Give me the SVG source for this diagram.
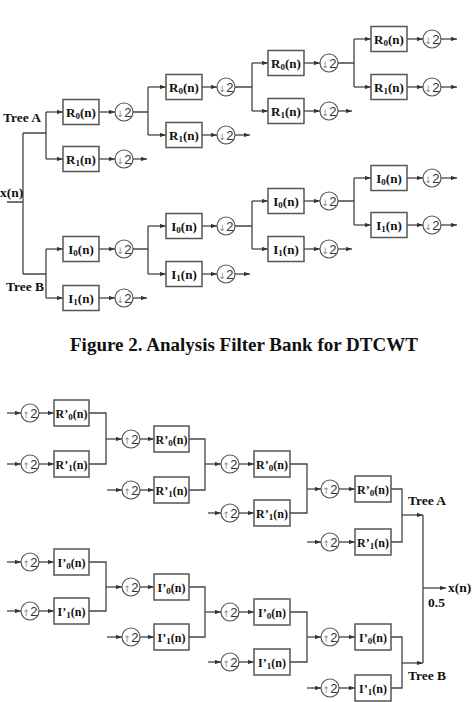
<svg xmlns="http://www.w3.org/2000/svg" width="474" height="702" viewBox="0 0 474 702">
<defs>
<marker id="ah" viewBox="0 0 10 8" refX="10" refY="4" markerWidth="6" markerHeight="4.8" markerUnits="userSpaceOnUse" orient="auto"><path d="M0,0.5 L10,4 L0,7.5 z" fill="#333"/></marker>
<style>
.box{fill:#fff;stroke:#555;stroke-width:1.5}
.op{fill:#fff;stroke:#555;stroke-width:1.2}
.ln{fill:none;stroke:#444;stroke-width:1.3}
.ar{fill:none;stroke:#444;stroke-width:1.3;marker-end:url(#ah)}
.lbl{font-family:"Liberation Serif","Times New Roman",serif;font-weight:bold;font-size:13px;fill:#111;text-anchor:middle}
.lbs{font-size:12px}
.sub{font-size:9px}
.opt{font-family:"Liberation Sans",Arial,sans-serif;font-size:13px;fill:#333;text-anchor:middle}
.arr{font-family:"DejaVu Sans",sans-serif;fill:#888;font-size:9px}
.tx{font-family:"Liberation Serif","Times New Roman",serif;font-weight:bold;font-size:13.5px;fill:#111}
</style>
</defs>
<rect width="474" height="702" fill="#fff"/>

<g id="connectors">
<path class="ln" d="M7,202 H23 M23,133 V274 M23,133 H46 M23,274 H46"/>
<path class="ln" d="M46,112 V159 M133,112 H148 M148,87 V135 M235,87 H252 M252,63 V111 M338,63 H354 M354,39 V87"/>
<path class="ar" d="M46,112 H63"/><path class="ar" d="M46,159 H63"/>
<path class="ar" d="M99,112 H115"/><path class="ar" d="M99,159 H115"/>
<path class="ar" d="M133,159 H147"/>
<path class="ar" d="M148,87 H166"/><path class="ar" d="M148,135 H166"/>
<path class="ar" d="M202,87 H217"/><path class="ar" d="M202,135 H217"/>
<path class="ar" d="M235,135 H250"/>
<path class="ar" d="M252,63 H268"/><path class="ar" d="M252,111 H268"/>
<path class="ar" d="M304,63 H320"/><path class="ar" d="M304,111 H320"/>
<path class="ar" d="M338,111 H352"/>
<path class="ar" d="M354,39 H371"/><path class="ar" d="M354,87 H371"/>
<path class="ar" d="M407,39 H423"/><path class="ar" d="M407,87 H423"/>
<path class="ar" d="M441,39 H457"/><path class="ar" d="M441,87 H457"/>
<path class="ln" d="M46,249 V298 M133,249 H148 M148,226 V274 M235,226 H252 M252,201 V249 M338,201 H354 M354,178 V225"/>
<path class="ar" d="M46,249 H63"/><path class="ar" d="M46,298 H63"/>
<path class="ar" d="M99,249 H115"/><path class="ar" d="M99,298 H115"/>
<path class="ar" d="M133,298 H147"/>
<path class="ar" d="M148,226 H166"/><path class="ar" d="M148,274 H166"/>
<path class="ar" d="M202,226 H217"/><path class="ar" d="M202,274 H217"/>
<path class="ar" d="M235,274 H250"/>
<path class="ar" d="M252,201 H268"/><path class="ar" d="M252,249 H268"/>
<path class="ar" d="M304,201 H320"/><path class="ar" d="M304,249 H320"/>
<path class="ar" d="M338,249 H352"/>
<path class="ar" d="M354,178 H371"/><path class="ar" d="M354,225 H371"/>
<path class="ar" d="M407,178 H423"/><path class="ar" d="M407,225 H423"/>
<path class="ar" d="M441,178 H457"/><path class="ar" d="M441,225 H457"/>
<path class="ar" d="M7,413 H21"/><path class="ar" d="M7,464 H21"/>
<path class="ar" d="M39,413 H54"/><path class="ar" d="M39,464 H54"/>
<path class="ln" d="M89,413 H106 V464 H89"/><path class="ar" d="M106,439 H122"/>
<path class="ar" d="M107,490 H122"/>
<path class="ar" d="M140,439 H154"/><path class="ar" d="M140,490 H154"/>
<path class="ln" d="M189,439 H205 V490 H189"/><path class="ar" d="M205,464 H221"/>
<path class="ar" d="M208,513 H221"/>
<path class="ar" d="M239,464 H254"/><path class="ar" d="M239,513 H254"/>
<path class="ln" d="M290,464 H307 V513 H290"/><path class="ar" d="M307,489 H321"/>
<path class="ar" d="M307,542 H321"/>
<path class="ar" d="M339,489 H355"/><path class="ar" d="M339,542 H355"/>
<path class="ln" d="M391,489 H402 V542 H391"/><path class="ar" d="M402,515 H423"/>
<path class="ar" d="M7,562 H21"/><path class="ar" d="M7,611 H21"/>
<path class="ar" d="M39,562 H54"/><path class="ar" d="M39,611 H54"/>
<path class="ln" d="M89,562 H106 V611 H89"/><path class="ar" d="M106,587 H122"/>
<path class="ar" d="M107,637 H122"/>
<path class="ar" d="M140,587 H154"/><path class="ar" d="M140,637 H154"/>
<path class="ln" d="M189,587 H205 V637 H189"/><path class="ar" d="M205,612 H221"/>
<path class="ar" d="M208,662 H221"/>
<path class="ar" d="M239,612 H254"/><path class="ar" d="M239,662 H254"/>
<path class="ln" d="M290,612 H307 V662 H290"/><path class="ar" d="M307,637 H321"/>
<path class="ar" d="M307,688 H321"/>
<path class="ar" d="M339,637 H355"/><path class="ar" d="M339,688 H355"/>
<path class="ln" d="M391,637 H402 V688 H391"/><path class="ar" d="M402,663 H423"/>
<path class="ln" d="M423,515 V663"/><path class="ar" d="M423,588 H446"/>
</g>

<g id="a1r0"><rect class="box" x="63" y="99.5" width="36" height="25"/><text class="lbl" x="81" y="117">R<tspan class="sub" dy="2">0</tspan><tspan dy="-2">(n)</tspan></text></g>
<g id="a1r1"><rect class="box" x="63" y="146.5" width="36" height="25"/><text class="lbl" x="81" y="164">R<tspan class="sub" dy="2">1</tspan><tspan dy="-2">(n)</tspan></text></g>
<g id="a2r0"><rect class="box" x="166" y="74.5" width="36" height="25"/><text class="lbl" x="184" y="92">R<tspan class="sub" dy="2">0</tspan><tspan dy="-2">(n)</tspan></text></g>
<g id="a2r1"><rect class="box" x="166" y="122.5" width="36" height="25"/><text class="lbl" x="184" y="140">R<tspan class="sub" dy="2">1</tspan><tspan dy="-2">(n)</tspan></text></g>
<g id="a3r0"><rect class="box" x="268" y="50.5" width="36" height="25"/><text class="lbl" x="286" y="68">R<tspan class="sub" dy="2">0</tspan><tspan dy="-2">(n)</tspan></text></g>
<g id="a3r1"><rect class="box" x="268" y="98.5" width="36" height="25"/><text class="lbl" x="286" y="116">R<tspan class="sub" dy="2">1</tspan><tspan dy="-2">(n)</tspan></text></g>
<g id="a4r0"><rect class="box" x="371" y="26.5" width="36" height="25"/><text class="lbl" x="389" y="44">R<tspan class="sub" dy="2">0</tspan><tspan dy="-2">(n)</tspan></text></g>
<g id="a4r1"><rect class="box" x="371" y="74.5" width="36" height="25"/><text class="lbl" x="389" y="92">R<tspan class="sub" dy="2">1</tspan><tspan dy="-2">(n)</tspan></text></g>
<g id="a1d0"><circle class="op" cx="124" cy="112" r="9"/><text class="opt" x="124" y="117"><tspan class="arr">↓</tspan>2</text></g>
<g id="a1d1"><circle class="op" cx="124" cy="159" r="9"/><text class="opt" x="124" y="164"><tspan class="arr">↓</tspan>2</text></g>
<g id="a2d0"><circle class="op" cx="226" cy="87" r="9"/><text class="opt" x="226" y="92"><tspan class="arr">↓</tspan>2</text></g>
<g id="a2d1"><circle class="op" cx="226" cy="135" r="9"/><text class="opt" x="226" y="140"><tspan class="arr">↓</tspan>2</text></g>
<g id="a3d0"><circle class="op" cx="329" cy="63" r="9"/><text class="opt" x="329" y="68"><tspan class="arr">↓</tspan>2</text></g>
<g id="a3d1"><circle class="op" cx="329" cy="111" r="9"/><text class="opt" x="329" y="116"><tspan class="arr">↓</tspan>2</text></g>
<g id="a4d0"><circle class="op" cx="432" cy="39" r="9"/><text class="opt" x="432" y="44"><tspan class="arr">↓</tspan>2</text></g>
<g id="a4d1"><circle class="op" cx="432" cy="87" r="9"/><text class="opt" x="432" y="92"><tspan class="arr">↓</tspan>2</text></g>

<g id="b1i0"><rect class="box" x="63" y="236.5" width="36" height="25"/><text class="lbl" x="81" y="254">I<tspan class="sub" dy="2">0</tspan><tspan dy="-2">(n)</tspan></text></g>
<g id="b1i1"><rect class="box" x="63" y="285.5" width="36" height="25"/><text class="lbl" x="81" y="303">I<tspan class="sub" dy="2">1</tspan><tspan dy="-2">(n)</tspan></text></g>
<g id="b2i0"><rect class="box" x="166" y="213.5" width="36" height="25"/><text class="lbl" x="184" y="231">I<tspan class="sub" dy="2">0</tspan><tspan dy="-2">(n)</tspan></text></g>
<g id="b2i1"><rect class="box" x="166" y="261.5" width="36" height="25"/><text class="lbl" x="184" y="279">I<tspan class="sub" dy="2">1</tspan><tspan dy="-2">(n)</tspan></text></g>
<g id="b3i0"><rect class="box" x="268" y="188.5" width="36" height="25"/><text class="lbl" x="286" y="206">I<tspan class="sub" dy="2">0</tspan><tspan dy="-2">(n)</tspan></text></g>
<g id="b3i1"><rect class="box" x="268" y="236.5" width="36" height="25"/><text class="lbl" x="286" y="254">I<tspan class="sub" dy="2">1</tspan><tspan dy="-2">(n)</tspan></text></g>
<g id="b4i0"><rect class="box" x="371" y="165.5" width="36" height="25"/><text class="lbl" x="389" y="183">I<tspan class="sub" dy="2">0</tspan><tspan dy="-2">(n)</tspan></text></g>
<g id="b4i1"><rect class="box" x="371" y="212.5" width="36" height="25"/><text class="lbl" x="389" y="230">I<tspan class="sub" dy="2">1</tspan><tspan dy="-2">(n)</tspan></text></g>
<g id="b1d0"><circle class="op" cx="124" cy="249" r="9"/><text class="opt" x="124" y="254"><tspan class="arr">↓</tspan>2</text></g>
<g id="b1d1"><circle class="op" cx="124" cy="298" r="9"/><text class="opt" x="124" y="303"><tspan class="arr">↓</tspan>2</text></g>
<g id="b2d0"><circle class="op" cx="226" cy="226" r="9"/><text class="opt" x="226" y="231"><tspan class="arr">↓</tspan>2</text></g>
<g id="b2d1"><circle class="op" cx="226" cy="274" r="9"/><text class="opt" x="226" y="279"><tspan class="arr">↓</tspan>2</text></g>
<g id="b3d0"><circle class="op" cx="329" cy="201" r="9"/><text class="opt" x="329" y="206"><tspan class="arr">↓</tspan>2</text></g>
<g id="b3d1"><circle class="op" cx="329" cy="249" r="9"/><text class="opt" x="329" y="254"><tspan class="arr">↓</tspan>2</text></g>
<g id="b4d0"><circle class="op" cx="432" cy="178" r="9"/><text class="opt" x="432" y="183"><tspan class="arr">↓</tspan>2</text></g>
<g id="b4d1"><circle class="op" cx="432" cy="225" r="9"/><text class="opt" x="432" y="230"><tspan class="arr">↓</tspan>2</text></g>

<g id="labels-analysis">
<text class="tx" x="3" y="122" font-size="13">Tree A</text>
<text class="tx" x="6" y="291" font-size="13">Tree B</text>
<text class="tx" x="0" y="197" font-size="13">x(n)</text>
</g>

<g id="caption"><text x="70" y="351" font-family="'Liberation Serif','Times New Roman',serif" font-weight="bold" font-size="19" fill="#111">Figure 2. Analysis Filter Bank for DTCWT</text></g>

<g id="s1u0"><circle class="op" cx="30" cy="413" r="9"/><text class="opt" x="30" y="418"><tspan class="arr">↑</tspan>2</text></g>
<g id="s1u1"><circle class="op" cx="30" cy="464" r="9"/><text class="opt" x="30" y="469"><tspan class="arr">↑</tspan>2</text></g>
<g id="s1r0"><rect class="box" x="54" y="400" width="35" height="26"/><text class="lbl lbs" x="71.5" y="418">R’<tspan class="sub" dy="2">0</tspan><tspan dy="-2">(n)</tspan></text></g>
<g id="s1r1"><rect class="box" x="54" y="451" width="35" height="26"/><text class="lbl lbs" x="71.5" y="469">R’<tspan class="sub" dy="2">1</tspan><tspan dy="-2">(n)</tspan></text></g>
<g id="s2u0"><circle class="op" cx="131" cy="439" r="9"/><text class="opt" x="131" y="444"><tspan class="arr">↑</tspan>2</text></g>
<g id="s2u1"><circle class="op" cx="131" cy="490" r="9"/><text class="opt" x="131" y="495"><tspan class="arr">↑</tspan>2</text></g>
<g id="s2r0"><rect class="box" x="154" y="426" width="35" height="26"/><text class="lbl lbs" x="171.5" y="444">R’<tspan class="sub" dy="2">0</tspan><tspan dy="-2">(n)</tspan></text></g>
<g id="s2r1"><rect class="box" x="154" y="477" width="35" height="26"/><text class="lbl lbs" x="171.5" y="495">R’<tspan class="sub" dy="2">1</tspan><tspan dy="-2">(n)</tspan></text></g>
<g id="s3u0"><circle class="op" cx="230" cy="464" r="9"/><text class="opt" x="230" y="469"><tspan class="arr">↑</tspan>2</text></g>
<g id="s3u1"><circle class="op" cx="230" cy="513" r="9"/><text class="opt" x="230" y="518"><tspan class="arr">↑</tspan>2</text></g>
<g id="s3r0"><rect class="box" x="254" y="451" width="36" height="26"/><text class="lbl lbs" x="272" y="469">R’<tspan class="sub" dy="2">0</tspan><tspan dy="-2">(n)</tspan></text></g>
<g id="s3r1"><rect class="box" x="254" y="500" width="36" height="26"/><text class="lbl lbs" x="272" y="518">R’<tspan class="sub" dy="2">1</tspan><tspan dy="-2">(n)</tspan></text></g>
<g id="s4u0"><circle class="op" cx="330" cy="489" r="9"/><text class="opt" x="330" y="494"><tspan class="arr">↑</tspan>2</text></g>
<g id="s4u1"><circle class="op" cx="330" cy="542" r="9"/><text class="opt" x="330" y="547"><tspan class="arr">↑</tspan>2</text></g>
<g id="s4r0"><rect class="box" x="355" y="476" width="36" height="26"/><text class="lbl lbs" x="373" y="494">R’<tspan class="sub" dy="2">0</tspan><tspan dy="-2">(n)</tspan></text></g>
<g id="s4r1"><rect class="box" x="355" y="529" width="36" height="26"/><text class="lbl lbs" x="373" y="547">R’<tspan class="sub" dy="2">1</tspan><tspan dy="-2">(n)</tspan></text></g>

<g id="t1u0"><circle class="op" cx="30" cy="562" r="9"/><text class="opt" x="30" y="567"><tspan class="arr">↑</tspan>2</text></g>
<g id="t1u1"><circle class="op" cx="30" cy="611" r="9"/><text class="opt" x="30" y="616"><tspan class="arr">↑</tspan>2</text></g>
<g id="t1i0"><rect class="box" x="54" y="549" width="35" height="26"/><text class="lbl lbs" x="71.5" y="567">I’<tspan class="sub" dy="2">0</tspan><tspan dy="-2">(n)</tspan></text></g>
<g id="t1i1"><rect class="box" x="54" y="598" width="35" height="26"/><text class="lbl lbs" x="71.5" y="616">I’<tspan class="sub" dy="2">1</tspan><tspan dy="-2">(n)</tspan></text></g>
<g id="t2u0"><circle class="op" cx="131" cy="587" r="9"/><text class="opt" x="131" y="592"><tspan class="arr">↑</tspan>2</text></g>
<g id="t2u1"><circle class="op" cx="131" cy="637" r="9"/><text class="opt" x="131" y="642"><tspan class="arr">↑</tspan>2</text></g>
<g id="t2i0"><rect class="box" x="154" y="574" width="35" height="26"/><text class="lbl lbs" x="171.5" y="592">I’<tspan class="sub" dy="2">0</tspan><tspan dy="-2">(n)</tspan></text></g>
<g id="t2i1"><rect class="box" x="154" y="624" width="35" height="26"/><text class="lbl lbs" x="171.5" y="642">I’<tspan class="sub" dy="2">1</tspan><tspan dy="-2">(n)</tspan></text></g>
<g id="t3u0"><circle class="op" cx="230" cy="612" r="9"/><text class="opt" x="230" y="617"><tspan class="arr">↑</tspan>2</text></g>
<g id="t3u1"><circle class="op" cx="230" cy="662" r="9"/><text class="opt" x="230" y="667"><tspan class="arr">↑</tspan>2</text></g>
<g id="t3i0"><rect class="box" x="254" y="599" width="36" height="26"/><text class="lbl lbs" x="272" y="617">I’<tspan class="sub" dy="2">0</tspan><tspan dy="-2">(n)</tspan></text></g>
<g id="t3i1"><rect class="box" x="254" y="649" width="36" height="26"/><text class="lbl lbs" x="272" y="667">I’<tspan class="sub" dy="2">1</tspan><tspan dy="-2">(n)</tspan></text></g>
<g id="t4u0"><circle class="op" cx="330" cy="637" r="9"/><text class="opt" x="330" y="642"><tspan class="arr">↑</tspan>2</text></g>
<g id="t4u1"><circle class="op" cx="330" cy="688" r="9"/><text class="opt" x="330" y="693"><tspan class="arr">↑</tspan>2</text></g>
<g id="t4i0"><rect class="box" x="355" y="624" width="36" height="26"/><text class="lbl lbs" x="373" y="642">I’<tspan class="sub" dy="2">0</tspan><tspan dy="-2">(n)</tspan></text></g>
<g id="t4i1"><rect class="box" x="355" y="675" width="36" height="26"/><text class="lbl lbs" x="373" y="693">I’<tspan class="sub" dy="2">1</tspan><tspan dy="-2">(n)</tspan></text></g>

<g id="labels-synthesis">
<text class="tx" x="408" y="505">Tree A</text>
<text class="tx" x="408" y="680">Tree B</text>
<text class="tx" x="448" y="592">x(n)</text>
<text class="tx" x="428" y="607">0.5</text>
</g>
</svg>
